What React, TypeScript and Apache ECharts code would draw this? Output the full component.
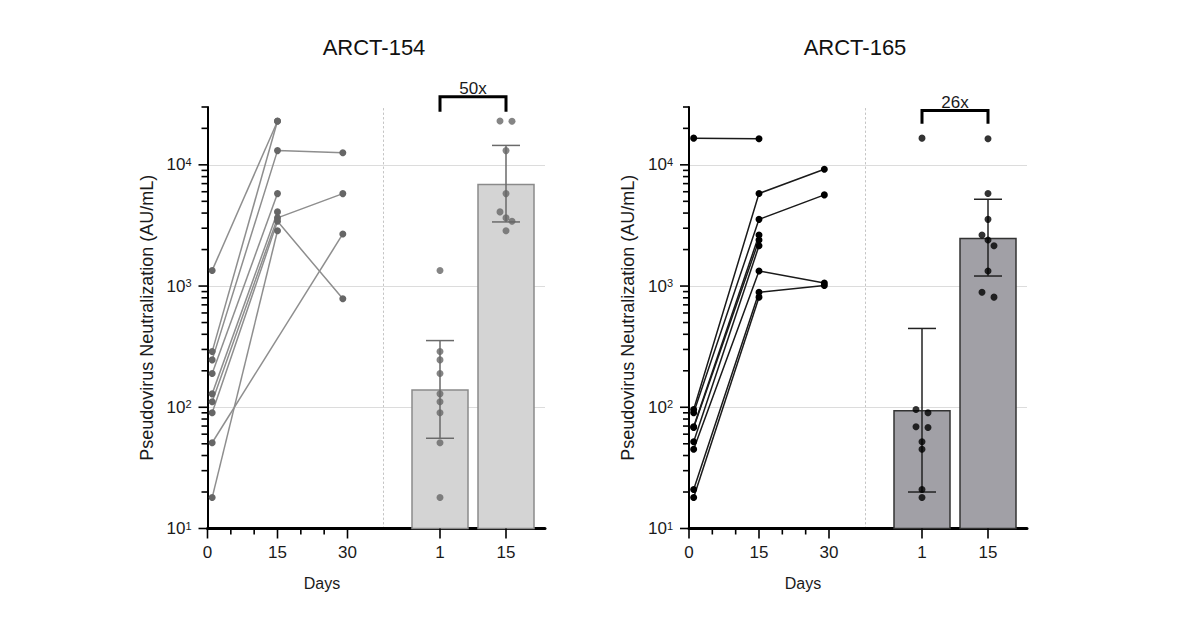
import React, { useEffect, useRef } from 'react';
import * as echarts from 'echarts';

// ---------- data ----------
const PANEL_TITLES = ['ARCT-154', 'ARCT-165'];
const DAYS = [1, 15, 29];

// per-subject titres at day 1, 15, 29 (null = not measured)
const ARCT154_SUBJECTS: (number | null)[][] = [
  [1346, 22900, null],
  [288, 23000, null],
  [246, 13100, 12560],
  [190, 5790, null],
  [129, 4090, null],
  [111, 3650, 5790],
  [90, 3420, 786],
  [18, 2860, null],
  [51, null, 2690],
];
const ARCT165_SUBJECTS: (number | null)[][] = [
  [16600, 16400, null],
  [96, 5800, 9200],
  [90, 3550, 5650],
  [69, 2640, null],
  [68, 2400, null],
  [52, 2150, null],
  [45, 1330, 1060],
  [21, 890, 1012],
  [18, 810, null],
];

const BAR_CATEGORIES = ['1', '15'];
const BAR_DAY_INDEX = [0, 1]; // which measurement column each bar summarises
const ARCT154_GMT = [139, 6870];
const ARCT154_ERR_LOW = [55.5, 3380];
const ARCT154_ERR_HIGH = [355, 14460];
const ARCT165_GMT = [93.4, 2470];
const ARCT165_ERR_LOW = [20, 1210];
const ARCT165_ERR_HIGH = [447, 5200];
const FOLD_LABELS = ['50x', '26x'];
const BRACKET_TOP = [36500, 28100];
const BRACKET_LEG = [27400, 21800];

const X_MAJOR_TICKS = [0, 15, 30];
const X_MINOR_TICKS = [5, 10, 20, 25];
const Y_MAJOR_TICKS = [10, 100, 1000, 10000];
const Y_MINOR_TICKS = [
  20, 30, 40, 50, 60, 70, 80, 90,
  200, 300, 400, 500, 600, 700, 800, 900,
  2000, 3000, 4000, 5000, 6000, 7000, 8000, 9000,
  20000, 30000,
];
const Y_MIN = 10;
const Y_MAX = 30000;

// ---------- layout / style ----------
const FONT = '"Liberation Sans", Arial, Helvetica, sans-serif';
const TOP = 107;
const BOTTOM = 528.5;
const PX_PER_DAY = 140 / 30;
const LAYOUT = [
  { axisX: 207.5, divX: 383.5, endX: 545, c0: 440, c1: 506, titleX: 374, daysX: 322 },
  { axisX: 689, divX: 865.5, endX: 1027, c0: 922, c1: 988, titleX: 855, daysX: 803 },
];
const STYLES = [
  { line: '#8e8e8e', dot: '#666666', barFill: '#d4d4d4', barStroke: '#8a8a8a', err: '#6a6a6a' },
  { line: '#1a1a1a', dot: '#000000', barFill: '#a1a0a6', barStroke: '#333333', err: '#222222' },
];

function swarmOffsets(vals: number[]): number[] {
  const order = vals.map((_, i) => i).sort((a, b) => vals[b] - vals[a]);
  const off = new Array(vals.length).fill(0);
  let cluster: number[] = [];
  const flush = () => {
    const n = cluster.length;
    if (n > 1) {
      const sp = 12 / (n - 1);
      cluster.forEach((k, j) => { off[k] = (j - (n - 1) / 2) * sp; });
    }
    cluster = [];
  };
  order.forEach((k) => {
    if (cluster.length) {
      const last = cluster[cluster.length - 1];
      if (Math.log10(vals[last]) - Math.log10(vals[k]) >= 0.055) flush();
    }
    cluster.push(k);
  });
  flush();
  return off;
}

// tick marks drawn through the axis scales
function tickSeries(xIdx: number, yIdx: number, data: number[][], dir: 'left' | 'down', len: number) {
  return {
    type: 'custom', xAxisIndex: xIdx, yAxisIndex: yIdx, z: 6, silent: true, clip: false,
    data,
    renderItem: (params: any, api: any) => {
      const pt = api.coord([api.value(0), api.value(1)]);
      const shape = dir === 'left'
        ? { x1: pt[0] - len, y1: pt[1], x2: pt[0], y2: pt[1] }
        : { x1: pt[0], y1: pt[1], x2: pt[0], y2: pt[1] + len };
      return { type: 'line', shape, style: { stroke: '#000', lineWidth: 1.6 } };
    },
  };
}

function buildOption() {
  const grid: any[] = [];
  const xAxis: any[] = [];
  const yAxis: any[] = [];
  const series: any[] = [];
  const graphic: any[] = [];

  const panels = [
    { subjects: ARCT154_SUBJECTS, gmt: ARCT154_GMT, lo: ARCT154_ERR_LOW, hi: ARCT154_ERR_HIGH },
    { subjects: ARCT165_SUBJECTS, gmt: ARCT165_GMT, lo: ARCT165_ERR_LOW, hi: ARCT165_ERR_HIGH },
  ];

  panels.forEach((pd, p) => {
    const L = LAYOUT[p];
    const S = STYLES[p];
    const gA = 2 * p;
    const gB = 2 * p + 1;
    grid.push({ left: L.axisX, top: TOP, width: L.divX - L.axisX, height: BOTTOM - TOP });
    grid.push({ left: L.divX, top: TOP, width: L.endX - L.divX, height: BOTTOM - TOP });

    const xMaxA = (L.divX - L.axisX) / PX_PER_DAY;
    const unit = L.c1 - L.c0;
    const xMinB = -(L.c0 - L.divX) / unit;
    const xMaxB = 1 + (L.endX - L.c1) / unit;

    // x axes
    xAxis.push({
      type: 'value', gridIndex: gA, min: 0, max: xMaxA, position: 'bottom',
      axisLine: { show: true, onZero: false, lineStyle: { color: '#000', width: 3 } },
      axisTick: { show: false },
      axisLabel: { show: true, customValues: X_MAJOR_TICKS, margin: 15, fontSize: 17, color: '#1a1a1a', fontFamily: FONT },
      splitLine: { show: false },
    });
    xAxis.push({
      type: 'value', gridIndex: gB, min: xMinB, max: xMaxB, position: 'bottom',
      axisLine: { show: true, onZero: false, lineStyle: { color: '#000', width: 3 } },
      axisTick: { show: false },
      axisLabel: {
        show: true, customValues: [0, 1], margin: 15, fontSize: 17, color: '#1a1a1a', fontFamily: FONT,
        formatter: (v: number) => BAR_CATEGORIES[Math.round(v)] ?? '',
      },
      splitLine: { show: false },
    });

    // y axes
    yAxis.push({
      type: 'log', logBase: 10, gridIndex: gA, min: Y_MIN, max: Y_MAX, position: 'left',
      name: 'Pseudovirus Neutralization (AU/mL)', nameLocation: 'middle', nameGap: 52, nameRotate: 90,
      nameTextStyle: { fontSize: 18, color: '#1a1a1a', fontFamily: FONT },
      axisLine: { show: true, onZero: false, lineStyle: { color: '#000', width: 2 } },
      axisTick: { show: false, customValues: Y_MAJOR_TICKS },
      axisLabel: {
        show: true, customValues: Y_MAJOR_TICKS, margin: 16, fontSize: 17, color: '#1a1a1a', fontFamily: FONT,
        formatter: (v: number) => `10{s|${Math.round(Math.log10(v))}}`,
        rich: { s: { fontSize: 11, verticalAlign: 'top', color: '#1a1a1a', fontFamily: FONT } },
      },
      splitLine: { show: true, lineStyle: { color: '#dcdcdc', width: 1 } },
    });
    yAxis.push({
      type: 'log', logBase: 10, gridIndex: gB, min: Y_MIN, max: Y_MAX, position: 'left',
      axisLine: { show: true, onZero: false, lineStyle: { color: '#c4c4c4', width: 1, type: [1.5, 3] } },
      axisTick: { show: false, customValues: Y_MAJOR_TICKS },
      axisLabel: { show: false, customValues: Y_MAJOR_TICKS },
      splitLine: { show: true, lineStyle: { color: '#dcdcdc', width: 1 } },
    });

    const xA = 2 * p, yA = 2 * p, xB = 2 * p + 1, yB = 2 * p + 1;

    // tick marks
    series.push(tickSeries(xA, yA, Y_MAJOR_TICKS.map((v) => [0, v]), 'left', 9));
    series.push(tickSeries(xA, yA, Y_MINOR_TICKS.map((v) => [0, v]), 'left', 6));
    series.push(tickSeries(xA, yA, X_MAJOR_TICKS.map((d) => [d, Y_MIN]), 'down', 10));
    series.push(tickSeries(xA, yA, X_MINOR_TICKS.map((d) => [d, Y_MIN]), 'down', 6));
    series.push(tickSeries(xB, yB, BAR_CATEGORIES.map((_, i) => [i, Y_MIN]), 'down', 10));

    // subject lines
    pd.subjects.forEach((s, k) => {
      const data = DAYS.map((d, i) => [d, s[i]]).filter((pt) => pt[1] != null);
      series.push({
        type: 'line', name: `${PANEL_TITLES[p]}-s${k}`, xAxisIndex: xA, yAxisIndex: yA,
        data, symbol: 'circle', symbolSize: 7, showSymbol: true, connectNulls: true,
        lineStyle: { color: S.line, width: 1.5 }, itemStyle: { color: S.dot }, z: 3,
        silent: true,
      });
    });

    // bars
    series.push({
      type: 'custom', xAxisIndex: xB, yAxisIndex: yB, z: 2, silent: true,
      data: BAR_CATEGORIES.map((_, i) => [i, pd.gmt[i]]),
      renderItem: (params: any, api: any) => {
        const top = api.coord([api.value(0), api.value(1)]);
        const base = api.coord([api.value(0), Y_MIN]);
        return {
          type: 'rect',
          shape: { x: top[0] - 28, y: top[1], width: 56, height: base[1] - top[1] },
          style: { fill: S.barFill, stroke: S.barStroke, lineWidth: 1.5 },
        };
      },
    });

    // error bars
    series.push({
      type: 'custom', xAxisIndex: xB, yAxisIndex: yB, z: 3, silent: true,
      data: BAR_CATEGORIES.map((_, i) => [i, pd.lo[i], pd.hi[i]]),
      renderItem: (params: any, api: any) => {
        const x = api.value(0);
        const lo = api.coord([x, api.value(1)]);
        const hi = api.coord([x, api.value(2)]);
        const st = { stroke: S.err, lineWidth: 1.5 };
        const cap = 14;
        return {
          type: 'group',
          children: [
            { type: 'line', shape: { x1: lo[0], y1: lo[1], x2: hi[0], y2: hi[1] }, style: st },
            { type: 'line', shape: { x1: lo[0] - cap, y1: lo[1], x2: lo[0] + cap, y2: lo[1] }, style: st },
            { type: 'line', shape: { x1: hi[0] - cap, y1: hi[1], x2: hi[0] + cap, y2: hi[1] }, style: st },
          ],
        };
      },
    });

    // dots on bars
    BAR_CATEGORIES.forEach((_, i) => {
      const vals = pd.subjects.map((s) => s[BAR_DAY_INDEX[i]]).filter((v) => v != null) as number[];
      const offs = swarmOffsets(vals);
      series.push({
        type: 'scatter', xAxisIndex: xB, yAxisIndex: yB, z: 4, silent: true,
        symbol: 'circle', symbolSize: 7, itemStyle: { color: S.dot },
        data: vals.map((v, k) => ({ value: [i, v], symbolOffset: [offs[k], 0] })),
      });
    });

    // fold-change bracket
    series.push({
      type: 'custom', xAxisIndex: xB, yAxisIndex: yB, z: 5, silent: true, clip: false,
      data: [[0]],
      renderItem: (params: any, api: any) => {
        const a = api.coord([0, BRACKET_LEG[p]]);
        const b = api.coord([0, BRACKET_TOP[p]]);
        const c = api.coord([1, BRACKET_TOP[p]]);
        const d = api.coord([1, BRACKET_LEG[p]]);
        return {
          type: 'group',
          children: [
            {
              type: 'polyline',
              shape: { points: [a, b, c, d] },
              style: { stroke: '#000', lineWidth: 3, fill: 'none', lineJoin: 'miter' },
            },
            {
              type: 'text',
              style: {
                x: (b[0] + c[0]) / 2, y: b[1] - 8, text: FOLD_LABELS[p],
                fontSize: 17, fontFamily: FONT, fill: '#1a1a1a', textAlign: 'center', textVerticalAlign: 'middle',
              },
            },
          ],
        };
      },
    });

    graphic.push({
      type: 'text', silent: true,
      style: { text: PANEL_TITLES[p], x: L.titleX, y: 47, fontSize: 22, fontFamily: FONT, fill: '#111', textAlign: 'center', textVerticalAlign: 'middle' },
    });
    graphic.push({
      type: 'text', silent: true,
      style: { text: 'Days', x: L.daysX, y: 583, fontSize: 16, fontFamily: FONT, fill: '#1a1a1a', textAlign: 'center', textVerticalAlign: 'middle' },
    });
  });

  return {
    animation: false,
    backgroundColor: '#ffffff',
    textStyle: { fontFamily: FONT },
    grid, xAxis, yAxis, series, graphic,
  };
}

export default function App() {
  const ref = useRef<HTMLDivElement>(null);
  useEffect(() => {
    if (!ref.current) return;
    const chart = echarts.init(ref.current, undefined, { renderer: 'svg' });
    chart.setOption(buildOption() as any);
    return () => chart.dispose();
  }, []);
  return <div ref={ref} style={{ position: 'fixed', left: 0, top: 0, width: 1200, height: 627, background: '#fff' }} />;
}
